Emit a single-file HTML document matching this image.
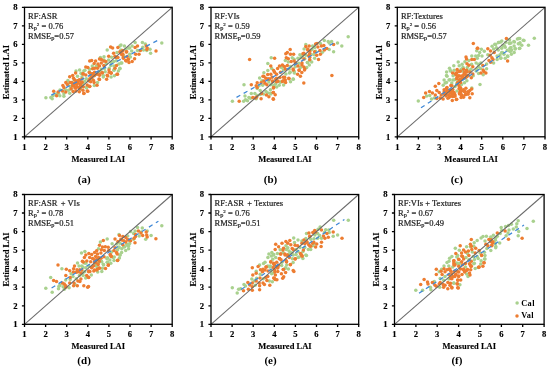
<!DOCTYPE html>
<html><head><meta charset="utf-8"><style>
html,body{margin:0;padding:0;background:#fff;}
svg{display:block;filter:blur(0.3px);}
text{font-family:"Liberation Serif","Times New Roman",serif;}
.tk{font-size:7.5px;font-weight:bold;fill:#000;stroke:#000;stroke-width:0.15px;}
.ax{font-size:8.5px;font-weight:bold;fill:#000;stroke:#000;stroke-width:0.12px;}
.an{font-size:8.5px;fill:#262626;stroke:#262626;stroke-width:0.22px;}
.sb{font-size:6.2px;}
.sp{font-size:5px;}
.pl{font-size:11px;font-weight:bold;fill:#000;}
.lg{font-size:8.3px;font-weight:bold;fill:#000;letter-spacing:0.4px;}
</style></head><body>
<svg width="550" height="370" viewBox="0 0 550 370">
<rect width="550" height="370" fill="#fff"/>
<g fill="#A9D18E"><circle cx="45.9" cy="97.7" r="1.75"/><circle cx="50.8" cy="97.5" r="1.75"/><circle cx="52.2" cy="98.7" r="1.75"/><circle cx="58.5" cy="93.2" r="1.75"/><circle cx="63.9" cy="93.8" r="1.75"/><circle cx="63.9" cy="96.3" r="1.75"/><circle cx="69.7" cy="93.3" r="1.75"/><circle cx="65.3" cy="89.5" r="1.75"/><circle cx="71.2" cy="89" r="1.75"/><circle cx="70.2" cy="86.5" r="1.75"/><circle cx="77.5" cy="76.3" r="1.75"/><circle cx="76" cy="71" r="1.75"/><circle cx="80.4" cy="89" r="1.75"/><circle cx="81.9" cy="73.9" r="1.75"/><circle cx="83.8" cy="71" r="1.75"/><circle cx="86.3" cy="78.8" r="1.75"/><circle cx="86.7" cy="87.5" r="1.75"/><circle cx="82.9" cy="83.6" r="1.75"/><circle cx="89.2" cy="72" r="1.75"/><circle cx="90.6" cy="75.8" r="1.75"/><circle cx="107.2" cy="49.9" r="1.75"/><circle cx="119.9" cy="46" r="1.75"/><circle cx="120.9" cy="49.9" r="1.75"/><circle cx="128.6" cy="47.9" r="1.75"/><circle cx="100.4" cy="57.6" r="1.75"/><circle cx="111.6" cy="57.2" r="1.75"/><circle cx="106.3" cy="63.5" r="1.75"/><circle cx="111.1" cy="62.5" r="1.75"/><circle cx="118.9" cy="64" r="1.75"/><circle cx="121.8" cy="63" r="1.75"/><circle cx="119.9" cy="68.3" r="1.75"/><circle cx="114" cy="70.3" r="1.75"/><circle cx="109.2" cy="68.3" r="1.75"/><circle cx="101.4" cy="69.3" r="1.75"/><circle cx="96.5" cy="65.9" r="1.75"/><circle cx="89.7" cy="69.3" r="1.75"/><circle cx="84.9" cy="70.3" r="1.75"/><circle cx="81" cy="73.2" r="1.75"/><circle cx="94.6" cy="75.2" r="1.75"/><circle cx="103.3" cy="77.1" r="1.75"/><circle cx="111.1" cy="77.1" r="1.75"/><circle cx="82" cy="77.1" r="1.75"/><circle cx="114" cy="66" r="1.75"/><circle cx="104" cy="60" r="1.75"/><circle cx="121" cy="45.1" r="1.75"/><circle cx="135.1" cy="42.6" r="1.75"/><circle cx="142.4" cy="42.6" r="1.75"/><circle cx="145.3" cy="44.1" r="1.75"/><circle cx="161.8" cy="43.1" r="1.75"/><circle cx="150.6" cy="53.3" r="1.75"/><circle cx="146.8" cy="50.4" r="1.75"/><circle cx="129.7" cy="48" r="1.75"/><circle cx="131.7" cy="50.9" r="1.75"/><circle cx="137.5" cy="50.4" r="1.75"/><circle cx="129.7" cy="54.3" r="1.75"/><circle cx="121" cy="63.1" r="1.75"/><circle cx="125.8" cy="49.5" r="1.75"/><circle cx="123.9" cy="56.3" r="1.75"/><circle cx="97.5" cy="82.4" r="1.75"/><circle cx="86.3" cy="87.8" r="1.75"/><circle cx="119.9" cy="68.8" r="1.75"/><circle cx="103.3" cy="75.6" r="1.75"/><circle cx="114" cy="69.8" r="1.75"/><circle cx="74" cy="80" r="1.75"/><circle cx="68" cy="84" r="1.75"/><circle cx="92" cy="79" r="1.75"/><circle cx="60" cy="90" r="1.75"/><circle cx="56" cy="94" r="1.75"/><circle cx="92.3" cy="66.1" r="1.75"/><circle cx="110.8" cy="65.6" r="1.75"/><circle cx="79.6" cy="69.9" r="1.75"/><circle cx="114.4" cy="75.7" r="1.75"/><circle cx="53.2" cy="95.5" r="1.75"/><circle cx="116.4" cy="60.8" r="1.75"/><circle cx="105.2" cy="71.8" r="1.75"/><circle cx="142.8" cy="47.2" r="1.75"/><circle cx="130.4" cy="57.1" r="1.75"/><circle cx="84.8" cy="81.3" r="1.75"/><circle cx="143.5" cy="50" r="1.75"/><circle cx="108.6" cy="60" r="1.75"/><circle cx="118.4" cy="71.1" r="1.75"/><circle cx="67.9" cy="80.6" r="1.75"/><circle cx="150" cy="49.2" r="1.75"/><circle cx="59.8" cy="95.8" r="1.75"/><circle cx="104.5" cy="68.4" r="1.75"/><circle cx="104" cy="56.8" r="1.75"/><circle cx="68.5" cy="90.2" r="1.75"/><circle cx="113.8" cy="61.4" r="1.75"/><circle cx="132.1" cy="46" r="1.75"/><circle cx="117" cy="52.5" r="1.75"/><circle cx="99.2" cy="71.8" r="1.75"/><circle cx="94.3" cy="85.6" r="1.75"/><circle cx="124.4" cy="45.9" r="1.75"/></g>
<g fill="#ED7D31"><circle cx="53.7" cy="91.2" r="1.75"/><circle cx="56.6" cy="95.8" r="1.75"/><circle cx="58.1" cy="91.9" r="1.75"/><circle cx="62.4" cy="90.9" r="1.75"/><circle cx="62.9" cy="85.6" r="1.75"/><circle cx="63.9" cy="87.5" r="1.75"/><circle cx="65.8" cy="82.6" r="1.75"/><circle cx="65.8" cy="91.9" r="1.75"/><circle cx="67.3" cy="84.6" r="1.75"/><circle cx="69.7" cy="76.8" r="1.75"/><circle cx="70.2" cy="82.6" r="1.75"/><circle cx="71.7" cy="82.6" r="1.75"/><circle cx="73.6" cy="78.3" r="1.75"/><circle cx="73.1" cy="91.4" r="1.75"/><circle cx="74.1" cy="86.1" r="1.75"/><circle cx="75.6" cy="72.9" r="1.75"/><circle cx="76" cy="84.1" r="1.75"/><circle cx="78" cy="82.6" r="1.75"/><circle cx="79.5" cy="79.7" r="1.75"/><circle cx="80.4" cy="84.6" r="1.75"/><circle cx="81.4" cy="82.2" r="1.75"/><circle cx="83.8" cy="93.3" r="1.75"/><circle cx="87.2" cy="90.9" r="1.75"/><circle cx="83.3" cy="73.9" r="1.75"/><circle cx="85.8" cy="74.9" r="1.75"/><circle cx="87.2" cy="85.1" r="1.75"/><circle cx="89.7" cy="86.5" r="1.75"/><circle cx="88.7" cy="80.7" r="1.75"/><circle cx="90.6" cy="81.7" r="1.75"/><circle cx="72.5" cy="86" r="1.75"/><circle cx="75" cy="88" r="1.75"/><circle cx="77" cy="86.5" r="1.75"/><circle cx="79" cy="87.5" r="1.75"/><circle cx="81" cy="86" r="1.75"/><circle cx="78.5" cy="80.5" r="1.75"/><circle cx="76.5" cy="81" r="1.75"/><circle cx="74.5" cy="83.5" r="1.75"/><circle cx="110.6" cy="46.9" r="1.75"/><circle cx="112.6" cy="47.9" r="1.75"/><circle cx="117.9" cy="47.4" r="1.75"/><circle cx="89.7" cy="61.1" r="1.75"/><circle cx="91.7" cy="60.6" r="1.75"/><circle cx="95.6" cy="61.1" r="1.75"/><circle cx="108.7" cy="56.2" r="1.75"/><circle cx="113.6" cy="53.3" r="1.75"/><circle cx="115" cy="56.2" r="1.75"/><circle cx="116" cy="57.6" r="1.75"/><circle cx="117.9" cy="57.6" r="1.75"/><circle cx="119.9" cy="51.8" r="1.75"/><circle cx="122.8" cy="50.4" r="1.75"/><circle cx="121.8" cy="54.7" r="1.75"/><circle cx="123.3" cy="57.6" r="1.75"/><circle cx="126.7" cy="51.8" r="1.75"/><circle cx="125.7" cy="60.6" r="1.75"/><circle cx="128.2" cy="59.6" r="1.75"/><circle cx="99.5" cy="59.1" r="1.75"/><circle cx="101.4" cy="59.6" r="1.75"/><circle cx="103.8" cy="61.1" r="1.75"/><circle cx="105.8" cy="61.5" r="1.75"/><circle cx="98" cy="64" r="1.75"/><circle cx="99.5" cy="65.9" r="1.75"/><circle cx="103.8" cy="65.4" r="1.75"/><circle cx="85.8" cy="66.9" r="1.75"/><circle cx="87.8" cy="67.4" r="1.75"/><circle cx="92.6" cy="68.8" r="1.75"/><circle cx="94.6" cy="68.3" r="1.75"/><circle cx="97.5" cy="68.3" r="1.75"/><circle cx="82.9" cy="73.7" r="1.75"/><circle cx="90.2" cy="73.2" r="1.75"/><circle cx="92.6" cy="73.7" r="1.75"/><circle cx="94.6" cy="72.2" r="1.75"/><circle cx="97" cy="74.2" r="1.75"/><circle cx="101.9" cy="72.7" r="1.75"/><circle cx="99.5" cy="75.2" r="1.75"/><circle cx="107.2" cy="75.2" r="1.75"/><circle cx="109.2" cy="72.2" r="1.75"/><circle cx="111.1" cy="72.7" r="1.75"/><circle cx="116.5" cy="65.4" r="1.75"/><circle cx="117.5" cy="74.2" r="1.75"/><circle cx="99" cy="79" r="1.75"/><circle cx="91.7" cy="77.6" r="1.75"/><circle cx="82" cy="79" r="1.75"/><circle cx="115" cy="68.3" r="1.75"/><circle cx="109" cy="70" r="1.75"/><circle cx="135.1" cy="47.5" r="1.75"/><circle cx="137.5" cy="46.1" r="1.75"/><circle cx="146.3" cy="46.1" r="1.75"/><circle cx="147.2" cy="48" r="1.75"/><circle cx="146.8" cy="49.5" r="1.75"/><circle cx="140.4" cy="50.4" r="1.75"/><circle cx="156" cy="50.9" r="1.75"/><circle cx="122.4" cy="50.9" r="1.75"/><circle cx="126.3" cy="51.9" r="1.75"/><circle cx="122.9" cy="54.3" r="1.75"/><circle cx="135.6" cy="54.3" r="1.75"/><circle cx="139" cy="54.3" r="1.75"/><circle cx="134.6" cy="58.7" r="1.75"/><circle cx="128.3" cy="59.2" r="1.75"/><circle cx="126.3" cy="61.1" r="1.75"/><circle cx="132.2" cy="61.6" r="1.75"/><circle cx="121" cy="53.3" r="1.75"/><circle cx="123.4" cy="58.2" r="1.75"/><circle cx="83.9" cy="93.6" r="1.75"/><circle cx="87.8" cy="91.2" r="1.75"/><circle cx="89.7" cy="86.3" r="1.75"/><circle cx="97" cy="85.3" r="1.75"/><circle cx="94.1" cy="82.4" r="1.75"/><circle cx="99.5" cy="79.5" r="1.75"/><circle cx="107.7" cy="76.1" r="1.75"/><circle cx="111.1" cy="73.2" r="1.75"/><circle cx="117" cy="74.2" r="1.75"/><circle cx="102.4" cy="72.7" r="1.75"/><circle cx="99.5" cy="74.6" r="1.75"/><circle cx="74.7" cy="80" r="1.75"/><circle cx="78.2" cy="80.5" r="1.75"/><circle cx="82.1" cy="82.2" r="1.75"/><circle cx="72.4" cy="83.5" r="1.75"/><circle cx="77.3" cy="83.6" r="1.75"/><circle cx="80.3" cy="84.6" r="1.75"/><circle cx="71.1" cy="88.7" r="1.75"/><circle cx="76" cy="88" r="1.75"/><circle cx="79.9" cy="88.6" r="1.75"/><circle cx="83.3" cy="86.8" r="1.75"/><circle cx="89.3" cy="72.5" r="1.75"/><circle cx="92.7" cy="73.7" r="1.75"/><circle cx="91.8" cy="76.7" r="1.75"/><circle cx="94.2" cy="75.8" r="1.75"/><circle cx="89.8" cy="78.7" r="1.75"/><circle cx="93.4" cy="80.2" r="1.75"/><circle cx="82.9" cy="90.2" r="1.75"/><circle cx="79.3" cy="91.8" r="1.75"/><circle cx="127.2" cy="56.6" r="1.75"/><circle cx="72.7" cy="75.5" r="1.75"/><circle cx="94.2" cy="63.5" r="1.75"/><circle cx="106.6" cy="79.2" r="1.75"/><circle cx="129" cy="62.4" r="1.75"/><circle cx="101.3" cy="62.9" r="1.75"/><circle cx="76" cy="91" r="1.75"/></g>
<line x1="24.5" y1="136.8" x2="172.2" y2="7.3" stroke="#6a6a6a" stroke-width="1.05"/>
<line x1="51.3" y1="95.1" x2="158.4" y2="40" stroke="#3F88D7" stroke-width="1.25" stroke-dasharray="4.3 3.9"/>
<rect x="24.5" y="7.3" width="147.7" height="129.5" fill="none" stroke="#000" stroke-width="1.3"/>
<path d="M24.5 136.8v2.6M24.5 136.8h-2.6M45.6 136.8v2.6M24.5 118.3h-2.6M66.7 136.8v2.6M24.5 99.8h-2.6M87.8 136.8v2.6M24.5 81.3h-2.6M108.9 136.8v2.6M24.5 62.8h-2.6M130 136.8v2.6M24.5 44.3h-2.6M151.1 136.8v2.6M24.5 25.8h-2.6M172.2 136.8v2.6M24.5 7.3h-2.6" stroke="#000" stroke-width="1.3" fill="none"/>
<text class="tk" transform="translate(24.5 149.7) scale(1.15 1)" text-anchor="middle">1</text>
<text class="tk" transform="translate(17.5 139.6) scale(1.15 1)" text-anchor="end">1</text>
<text class="tk" transform="translate(45.6 149.7) scale(1.15 1)" text-anchor="middle">2</text>
<text class="tk" transform="translate(17.5 121.1) scale(1.15 1)" text-anchor="end">2</text>
<text class="tk" transform="translate(66.7 149.7) scale(1.15 1)" text-anchor="middle">3</text>
<text class="tk" transform="translate(17.5 102.6) scale(1.15 1)" text-anchor="end">3</text>
<text class="tk" transform="translate(87.8 149.7) scale(1.15 1)" text-anchor="middle">4</text>
<text class="tk" transform="translate(17.5 84.1) scale(1.15 1)" text-anchor="end">4</text>
<text class="tk" transform="translate(108.9 149.7) scale(1.15 1)" text-anchor="middle">5</text>
<text class="tk" transform="translate(17.5 65.6) scale(1.15 1)" text-anchor="end">5</text>
<text class="tk" transform="translate(130 149.7) scale(1.15 1)" text-anchor="middle">6</text>
<text class="tk" transform="translate(17.5 47.1) scale(1.15 1)" text-anchor="end">6</text>
<text class="tk" transform="translate(151.1 149.7) scale(1.15 1)" text-anchor="middle">7</text>
<text class="tk" transform="translate(17.5 28.6) scale(1.15 1)" text-anchor="end">7</text>
<text class="tk" transform="translate(172.2 149.7) scale(1.15 1)" text-anchor="middle">8</text>
<text class="tk" transform="translate(17.5 10.1) scale(1.15 1)" text-anchor="end">8</text>
<text class="ax" x="98.3" y="162.1" text-anchor="middle">Measured LAI</text>
<text class="ax" transform="translate(9.1 72.1) rotate(-90)" text-anchor="middle">Estimated LAI</text>
<text class="an" x="28.1" y="18.7">RF:ASR</text>
<text class="an" x="28.1" y="28.9">R<tspan class="sb" dy="0.7">p</tspan><tspan dy="-3.5" class="sp">2</tspan><tspan dy="2.8"> = 0.76</tspan></text>
<text class="an" x="28.1" y="38.9">RMSE<tspan class="sb" dy="0.7">p</tspan><tspan dy="-0.7">=0.57</tspan></text>
<text class="pl" x="84.2" y="183.2" text-anchor="middle">(a)</text>
<g fill="#A9D18E"><circle cx="232.4" cy="101.3" r="1.75"/><circle cx="243.6" cy="101.3" r="1.75"/><circle cx="245.5" cy="99.8" r="1.75"/><circle cx="247.5" cy="100.8" r="1.75"/><circle cx="245" cy="95.9" r="1.75"/><circle cx="248.9" cy="97.4" r="1.75"/><circle cx="251.3" cy="93.5" r="1.75"/><circle cx="250.4" cy="98.3" r="1.75"/><circle cx="244" cy="84.7" r="1.75"/><circle cx="256.2" cy="98.8" r="1.75"/><circle cx="257.2" cy="95.4" r="1.75"/><circle cx="260.1" cy="94.5" r="1.75"/><circle cx="263.5" cy="94" r="1.75"/><circle cx="267.9" cy="93" r="1.75"/><circle cx="270.8" cy="94" r="1.75"/><circle cx="259.6" cy="77.9" r="1.75"/><circle cx="262" cy="80.8" r="1.75"/><circle cx="257.2" cy="88.6" r="1.75"/><circle cx="270.8" cy="84.7" r="1.75"/><circle cx="273.7" cy="85.7" r="1.75"/><circle cx="275.7" cy="83.8" r="1.75"/><circle cx="266" cy="91.5" r="1.75"/><circle cx="259" cy="85.7" r="1.75"/><circle cx="268.9" cy="79.9" r="1.75"/><circle cx="271.2" cy="57.7" r="1.75"/><circle cx="267.8" cy="63.6" r="1.75"/><circle cx="285.3" cy="60.6" r="1.75"/><circle cx="288.3" cy="62.1" r="1.75"/><circle cx="292.2" cy="57.7" r="1.75"/><circle cx="294.1" cy="59.2" r="1.75"/><circle cx="299.9" cy="54.8" r="1.75"/><circle cx="300.9" cy="57.7" r="1.75"/><circle cx="304.8" cy="58.7" r="1.75"/><circle cx="305.8" cy="55.3" r="1.75"/><circle cx="310.2" cy="53.8" r="1.75"/><circle cx="307.7" cy="62.6" r="1.75"/><circle cx="306.7" cy="67.5" r="1.75"/><circle cx="296" cy="63.6" r="1.75"/><circle cx="281.5" cy="67.5" r="1.75"/><circle cx="290.2" cy="72.3" r="1.75"/><circle cx="294.1" cy="71.3" r="1.75"/><circle cx="289.2" cy="68.9" r="1.75"/><circle cx="263.9" cy="72.8" r="1.75"/><circle cx="267.8" cy="70.4" r="1.75"/><circle cx="271.7" cy="68.4" r="1.75"/><circle cx="293.1" cy="79.1" r="1.75"/><circle cx="280.5" cy="82" r="1.75"/><circle cx="268.8" cy="82" r="1.75"/><circle cx="283.4" cy="70" r="1.75"/><circle cx="348.2" cy="36.8" r="1.75"/><circle cx="341.8" cy="46" r="1.75"/><circle cx="337.5" cy="43.1" r="1.75"/><circle cx="333.6" cy="51.8" r="1.75"/><circle cx="329.2" cy="49.4" r="1.75"/><circle cx="328.2" cy="41.6" r="1.75"/><circle cx="329.2" cy="43.1" r="1.75"/><circle cx="331.6" cy="41.6" r="1.75"/><circle cx="324.3" cy="40.6" r="1.75"/><circle cx="320.4" cy="43.6" r="1.75"/><circle cx="314.6" cy="47.5" r="1.75"/><circle cx="312.6" cy="46" r="1.75"/><circle cx="305.8" cy="44.5" r="1.75"/><circle cx="315.6" cy="51.3" r="1.75"/><circle cx="322.4" cy="52.3" r="1.75"/><circle cx="314.6" cy="58.2" r="1.75"/><circle cx="309.7" cy="60.1" r="1.75"/><circle cx="302" cy="56.2" r="1.75"/><circle cx="307.3" cy="62.5" r="1.75"/><circle cx="311.7" cy="62" r="1.75"/><circle cx="293.3" cy="79.2" r="1.75"/><circle cx="283.6" cy="85.1" r="1.75"/><circle cx="280.2" cy="82.2" r="1.75"/><circle cx="289.5" cy="72.9" r="1.75"/><circle cx="294.3" cy="72.9" r="1.75"/><circle cx="273.9" cy="85.6" r="1.75"/><circle cx="270.5" cy="93.3" r="1.75"/><circle cx="298.9" cy="63.2" r="1.75"/><circle cx="276.7" cy="87" r="1.75"/><circle cx="313.6" cy="54.6" r="1.75"/><circle cx="270.4" cy="89.8" r="1.75"/><circle cx="297.9" cy="58.2" r="1.75"/><circle cx="279.2" cy="85.3" r="1.75"/><circle cx="290.5" cy="81.8" r="1.75"/><circle cx="295.3" cy="66.7" r="1.75"/><circle cx="290.5" cy="66.4" r="1.75"/><circle cx="309.3" cy="65.1" r="1.75"/><circle cx="262.7" cy="85.3" r="1.75"/><circle cx="260.2" cy="90.4" r="1.75"/><circle cx="285.9" cy="73.9" r="1.75"/><circle cx="254.9" cy="93.6" r="1.75"/><circle cx="300.4" cy="67.5" r="1.75"/><circle cx="304.1" cy="48.9" r="1.75"/><circle cx="311.9" cy="49.6" r="1.75"/></g>
<g fill="#ED7D31"><circle cx="239.2" cy="101.3" r="1.75"/><circle cx="251.3" cy="84.7" r="1.75"/><circle cx="252.8" cy="97.4" r="1.75"/><circle cx="255.2" cy="97.9" r="1.75"/><circle cx="256.7" cy="96.9" r="1.75"/><circle cx="256.2" cy="85.7" r="1.75"/><circle cx="257.2" cy="87.6" r="1.75"/><circle cx="261.6" cy="93.5" r="1.75"/><circle cx="261.1" cy="98.8" r="1.75"/><circle cx="266.4" cy="94.9" r="1.75"/><circle cx="273.7" cy="87.6" r="1.75"/><circle cx="273.2" cy="92.5" r="1.75"/><circle cx="273.2" cy="98.8" r="1.75"/><circle cx="257.2" cy="82.8" r="1.75"/><circle cx="261.1" cy="82.8" r="1.75"/><circle cx="264" cy="76.5" r="1.75"/><circle cx="265" cy="83.3" r="1.75"/><circle cx="267.9" cy="78.9" r="1.75"/><circle cx="269.8" cy="78.9" r="1.75"/><circle cx="266.9" cy="84.7" r="1.75"/><circle cx="272.7" cy="81.8" r="1.75"/><circle cx="275.7" cy="78.9" r="1.75"/><circle cx="276.6" cy="81.8" r="1.75"/><circle cx="249.6" cy="59.6" r="1.75"/><circle cx="290.2" cy="49.5" r="1.75"/><circle cx="287.3" cy="52.4" r="1.75"/><circle cx="285.8" cy="53.8" r="1.75"/><circle cx="293.6" cy="54.3" r="1.75"/><circle cx="286.3" cy="57.7" r="1.75"/><circle cx="288.3" cy="58.7" r="1.75"/><circle cx="274.6" cy="58.2" r="1.75"/><circle cx="291.2" cy="61.6" r="1.75"/><circle cx="294.1" cy="61.1" r="1.75"/><circle cx="295.6" cy="63.1" r="1.75"/><circle cx="270.8" cy="66" r="1.75"/><circle cx="279.5" cy="66" r="1.75"/><circle cx="282.4" cy="65" r="1.75"/><circle cx="284.4" cy="66.5" r="1.75"/><circle cx="287.3" cy="65.5" r="1.75"/><circle cx="277.6" cy="68.4" r="1.75"/><circle cx="285.3" cy="68.9" r="1.75"/><circle cx="293.1" cy="68.9" r="1.75"/><circle cx="299" cy="69.9" r="1.75"/><circle cx="301.9" cy="65" r="1.75"/><circle cx="303.8" cy="67" r="1.75"/><circle cx="304.8" cy="68.9" r="1.75"/><circle cx="298" cy="66" r="1.75"/><circle cx="302.9" cy="53.8" r="1.75"/><circle cx="308.7" cy="55.8" r="1.75"/><circle cx="307.7" cy="49.9" r="1.75"/><circle cx="309.7" cy="59.7" r="1.75"/><circle cx="273.7" cy="70.4" r="1.75"/><circle cx="274.6" cy="72.3" r="1.75"/><circle cx="270.8" cy="74.3" r="1.75"/><circle cx="276.6" cy="74.3" r="1.75"/><circle cx="280.5" cy="72.3" r="1.75"/><circle cx="263" cy="76.2" r="1.75"/><circle cx="265.9" cy="78.2" r="1.75"/><circle cx="268.8" cy="79.1" r="1.75"/><circle cx="263.9" cy="81.1" r="1.75"/><circle cx="276.6" cy="78.2" r="1.75"/><circle cx="277.6" cy="81.1" r="1.75"/><circle cx="283.4" cy="77.2" r="1.75"/><circle cx="285.3" cy="80.1" r="1.75"/><circle cx="288.8" cy="78.2" r="1.75"/><circle cx="282.4" cy="81.6" r="1.75"/><circle cx="300.4" cy="76.2" r="1.75"/><circle cx="303.8" cy="83" r="1.75"/><circle cx="272.7" cy="81.1" r="1.75"/><circle cx="305.8" cy="46.5" r="1.75"/><circle cx="309.2" cy="46" r="1.75"/><circle cx="307.8" cy="48.9" r="1.75"/><circle cx="315.6" cy="44.1" r="1.75"/><circle cx="317" cy="43.6" r="1.75"/><circle cx="321.4" cy="46" r="1.75"/><circle cx="323.8" cy="45.5" r="1.75"/><circle cx="326.8" cy="48.4" r="1.75"/><circle cx="333.6" cy="44.5" r="1.75"/><circle cx="319.9" cy="50.4" r="1.75"/><circle cx="320.4" cy="54.3" r="1.75"/><circle cx="314.6" cy="51.8" r="1.75"/><circle cx="309.7" cy="51.3" r="1.75"/><circle cx="303.9" cy="53.3" r="1.75"/><circle cx="309.7" cy="53.8" r="1.75"/><circle cx="309.7" cy="57.2" r="1.75"/><circle cx="303.9" cy="59.1" r="1.75"/><circle cx="318.5" cy="59.6" r="1.75"/><circle cx="302" cy="63" r="1.75"/><circle cx="273.4" cy="88" r="1.75"/><circle cx="273.4" cy="92.4" r="1.75"/><circle cx="273.4" cy="99.2" r="1.75"/><circle cx="284.6" cy="77.3" r="1.75"/><circle cx="285.6" cy="82.6" r="1.75"/><circle cx="289" cy="78.8" r="1.75"/><circle cx="283.1" cy="80.7" r="1.75"/><circle cx="277.8" cy="81.2" r="1.75"/><circle cx="299.2" cy="70.5" r="1.75"/><circle cx="304.5" cy="70" r="1.75"/><circle cx="293.3" cy="70" r="1.75"/><circle cx="331.9" cy="75.4" r="1.75"/><circle cx="267.7" cy="74.6" r="1.75"/><circle cx="279.9" cy="77.5" r="1.75"/><circle cx="297.6" cy="74.2" r="1.75"/><circle cx="316.7" cy="55.2" r="1.75"/><circle cx="317.9" cy="47.1" r="1.75"/><circle cx="272.1" cy="77.2" r="1.75"/><circle cx="324.4" cy="49.9" r="1.75"/><circle cx="301.8" cy="72.4" r="1.75"/><circle cx="290.5" cy="54.3" r="1.75"/><circle cx="275.2" cy="94.7" r="1.75"/><circle cx="268.9" cy="96.7" r="1.75"/></g>
<line x1="211" y1="136.8" x2="358.7" y2="7.3" stroke="#6a6a6a" stroke-width="1.05"/>
<line x1="236.5" y1="97.4" x2="333.8" y2="43" stroke="#3F88D7" stroke-width="1.25" stroke-dasharray="4.3 3.9"/>
<rect x="211" y="7.3" width="147.7" height="129.5" fill="none" stroke="#000" stroke-width="1.3"/>
<path d="M211 136.8v2.6M211 136.8h-2.6M232.1 136.8v2.6M211 118.3h-2.6M253.2 136.8v2.6M211 99.8h-2.6M274.3 136.8v2.6M211 81.3h-2.6M295.4 136.8v2.6M211 62.8h-2.6M316.5 136.8v2.6M211 44.3h-2.6M337.6 136.8v2.6M211 25.8h-2.6M358.7 136.8v2.6M211 7.3h-2.6" stroke="#000" stroke-width="1.3" fill="none"/>
<text class="tk" transform="translate(211 149.7) scale(1.15 1)" text-anchor="middle">1</text>
<text class="tk" transform="translate(204 139.6) scale(1.15 1)" text-anchor="end">1</text>
<text class="tk" transform="translate(232.1 149.7) scale(1.15 1)" text-anchor="middle">2</text>
<text class="tk" transform="translate(204 121.1) scale(1.15 1)" text-anchor="end">2</text>
<text class="tk" transform="translate(253.2 149.7) scale(1.15 1)" text-anchor="middle">3</text>
<text class="tk" transform="translate(204 102.6) scale(1.15 1)" text-anchor="end">3</text>
<text class="tk" transform="translate(274.3 149.7) scale(1.15 1)" text-anchor="middle">4</text>
<text class="tk" transform="translate(204 84.1) scale(1.15 1)" text-anchor="end">4</text>
<text class="tk" transform="translate(295.4 149.7) scale(1.15 1)" text-anchor="middle">5</text>
<text class="tk" transform="translate(204 65.6) scale(1.15 1)" text-anchor="end">5</text>
<text class="tk" transform="translate(316.5 149.7) scale(1.15 1)" text-anchor="middle">6</text>
<text class="tk" transform="translate(204 47.1) scale(1.15 1)" text-anchor="end">6</text>
<text class="tk" transform="translate(337.6 149.7) scale(1.15 1)" text-anchor="middle">7</text>
<text class="tk" transform="translate(204 28.6) scale(1.15 1)" text-anchor="end">7</text>
<text class="tk" transform="translate(358.7 149.7) scale(1.15 1)" text-anchor="middle">8</text>
<text class="tk" transform="translate(204 10.1) scale(1.15 1)" text-anchor="end">8</text>
<text class="ax" x="284.9" y="162.1" text-anchor="middle">Measured LAI</text>
<text class="ax" transform="translate(195.6 72.1) rotate(-90)" text-anchor="middle">Estimated LAI</text>
<text class="an" x="214.6" y="18.7">RF:VIs</text>
<text class="an" x="214.6" y="28.9">R<tspan class="sb" dy="0.7">p</tspan><tspan dy="-3.5" class="sp">2</tspan><tspan dy="2.8"> = 0.59</tspan></text>
<text class="an" x="214.6" y="38.9">RMSE<tspan class="sb" dy="0.7">p</tspan><tspan dy="-0.7">=0.59</tspan></text>
<text class="pl" x="270.5" y="183.2" text-anchor="middle">(b)</text>
<g fill="#A9D18E"><circle cx="418.3" cy="100.9" r="1.75"/><circle cx="426.6" cy="96" r="1.75"/><circle cx="431.5" cy="98.9" r="1.75"/><circle cx="434.4" cy="97.9" r="1.75"/><circle cx="444.1" cy="79.9" r="1.75"/><circle cx="445.1" cy="82.9" r="1.75"/><circle cx="449" cy="80" r="1.75"/><circle cx="453" cy="80" r="1.75"/><circle cx="456.7" cy="83.8" r="1.75"/><circle cx="458.2" cy="81" r="1.75"/><circle cx="447" cy="76.3" r="1.75"/><circle cx="449.9" cy="79.7" r="1.75"/><circle cx="446.5" cy="82.6" r="1.75"/><circle cx="454.7" cy="79.7" r="1.75"/><circle cx="451.8" cy="83.1" r="1.75"/><circle cx="461.5" cy="84.6" r="1.75"/><circle cx="466.9" cy="80.7" r="1.75"/><circle cx="471.8" cy="88" r="1.75"/><circle cx="480" cy="84.6" r="1.75"/><circle cx="473.2" cy="75.8" r="1.75"/><circle cx="476.1" cy="71" r="1.75"/><circle cx="478.6" cy="73.4" r="1.75"/><circle cx="450.4" cy="71" r="1.75"/><circle cx="462.5" cy="71" r="1.75"/><circle cx="468.3" cy="71" r="1.75"/><circle cx="476.7" cy="50.7" r="1.75"/><circle cx="471.8" cy="56.1" r="1.75"/><circle cx="475.7" cy="56.1" r="1.75"/><circle cx="468.9" cy="60.4" r="1.75"/><circle cx="458.2" cy="61.9" r="1.75"/><circle cx="453.8" cy="65.8" r="1.75"/><circle cx="449.5" cy="68.2" r="1.75"/><circle cx="450.4" cy="70.6" r="1.75"/><circle cx="446.5" cy="75.5" r="1.75"/><circle cx="459.2" cy="65.8" r="1.75"/><circle cx="462.1" cy="64.3" r="1.75"/><circle cx="463" cy="67.2" r="1.75"/><circle cx="470.9" cy="69.2" r="1.75"/><circle cx="478.6" cy="64.3" r="1.75"/><circle cx="476.7" cy="69.2" r="1.75"/><circle cx="461.1" cy="69.2" r="1.75"/><circle cx="478.6" cy="55.6" r="1.75"/><circle cx="534.3" cy="38.2" r="1.75"/><circle cx="528.5" cy="45.2" r="1.75"/><circle cx="523.3" cy="40.2" r="1.75"/><circle cx="519.8" cy="38.5" r="1.75"/><circle cx="517.4" cy="39" r="1.75"/><circle cx="519.2" cy="43.7" r="1.75"/><circle cx="519.8" cy="48.3" r="1.75"/><circle cx="515.1" cy="48.9" r="1.75"/><circle cx="514.5" cy="42" r="1.75"/><circle cx="511" cy="43.1" r="1.75"/><circle cx="509.3" cy="43.1" r="1.75"/><circle cx="509.9" cy="48.3" r="1.75"/><circle cx="511.6" cy="50" r="1.75"/><circle cx="509.9" cy="51.3" r="1.75"/><circle cx="505.2" cy="47.2" r="1.75"/><circle cx="502.9" cy="45.4" r="1.75"/><circle cx="500.6" cy="42" r="1.75"/><circle cx="498.8" cy="42.5" r="1.75"/><circle cx="494.8" cy="44.3" r="1.75"/><circle cx="493.6" cy="48.9" r="1.75"/><circle cx="498.3" cy="50.1" r="1.75"/><circle cx="501.7" cy="52.4" r="1.75"/><circle cx="504" cy="54.2" r="1.75"/><circle cx="507.6" cy="55.9" r="1.75"/><circle cx="505.2" cy="58.2" r="1.75"/><circle cx="500.6" cy="58.2" r="1.75"/><circle cx="497.1" cy="55.9" r="1.75"/><circle cx="484.3" cy="51.3" r="1.75"/><circle cx="479.7" cy="52.4" r="1.75"/><circle cx="482" cy="55.9" r="1.75"/><circle cx="477.3" cy="58.2" r="1.75"/><circle cx="487.8" cy="54.7" r="1.75"/><circle cx="480.8" cy="62.9" r="1.75"/><circle cx="486.6" cy="64" r="1.75"/><circle cx="478.5" cy="66.4" r="1.75"/><circle cx="493.6" cy="62.9" r="1.75"/><circle cx="486.6" cy="68.7" r="1.75"/><circle cx="498.4" cy="42.4" r="1.75"/><circle cx="501.8" cy="41.1" r="1.75"/><circle cx="504.5" cy="45.8" r="1.75"/><circle cx="509.5" cy="43.4" r="1.75"/><circle cx="513.9" cy="41.4" r="1.75"/><circle cx="518.6" cy="38.4" r="1.75"/><circle cx="524" cy="40.4" r="1.75"/><circle cx="518.3" cy="43.8" r="1.75"/><circle cx="520" cy="42.8" r="1.75"/><circle cx="519.3" cy="48.5" r="1.75"/><circle cx="515.3" cy="48.5" r="1.75"/><circle cx="510.9" cy="47.5" r="1.75"/><circle cx="510.5" cy="51.2" r="1.75"/><circle cx="502.4" cy="52.6" r="1.75"/><circle cx="495.7" cy="44.5" r="1.75"/><circle cx="496.4" cy="47.8" r="1.75"/><circle cx="507.8" cy="56.6" r="1.75"/><circle cx="501" cy="58" r="1.75"/><circle cx="511.4" cy="54.2" r="1.75"/><circle cx="464.9" cy="61.7" r="1.75"/><circle cx="443.2" cy="85.3" r="1.75"/><circle cx="481.4" cy="49.3" r="1.75"/><circle cx="471.6" cy="64.2" r="1.75"/><circle cx="509.5" cy="39.7" r="1.75"/><circle cx="446.6" cy="72.1" r="1.75"/><circle cx="453.1" cy="75.7" r="1.75"/><circle cx="480.4" cy="68.5" r="1.75"/><circle cx="457" cy="91" r="1.75"/><circle cx="497.1" cy="59.4" r="1.75"/><circle cx="467.3" cy="67.6" r="1.75"/><circle cx="514.2" cy="52.6" r="1.75"/><circle cx="464.5" cy="82.7" r="1.75"/><circle cx="521.8" cy="45.2" r="1.75"/><circle cx="507.3" cy="50.2" r="1.75"/><circle cx="501.7" cy="48.2" r="1.75"/><circle cx="476.1" cy="63.1" r="1.75"/><circle cx="514.1" cy="45.9" r="1.75"/><circle cx="500" cy="54.7" r="1.75"/><circle cx="505.8" cy="42.2" r="1.75"/><circle cx="429.7" cy="95.4" r="1.75"/><circle cx="483.2" cy="74.8" r="1.75"/><circle cx="455.1" cy="86.6" r="1.75"/><circle cx="454.1" cy="70.2" r="1.75"/><circle cx="492.1" cy="46.3" r="1.75"/></g>
<g fill="#ED7D31"><circle cx="423.7" cy="97.5" r="1.75"/><circle cx="425.6" cy="93.1" r="1.75"/><circle cx="429.5" cy="91.6" r="1.75"/><circle cx="432.4" cy="93.1" r="1.75"/><circle cx="435.3" cy="95" r="1.75"/><circle cx="436.8" cy="98.4" r="1.75"/><circle cx="435.3" cy="86.3" r="1.75"/><circle cx="438.8" cy="83.4" r="1.75"/><circle cx="436.8" cy="90.6" r="1.75"/><circle cx="439.2" cy="92.6" r="1.75"/><circle cx="441.2" cy="95" r="1.75"/><circle cx="440.2" cy="97.9" r="1.75"/><circle cx="443.1" cy="98.9" r="1.75"/><circle cx="444.1" cy="89.7" r="1.75"/><circle cx="446.5" cy="88.2" r="1.75"/><circle cx="446" cy="96" r="1.75"/><circle cx="449" cy="97.5" r="1.75"/><circle cx="449.9" cy="93.1" r="1.75"/><circle cx="451.9" cy="90.6" r="1.75"/><circle cx="451.9" cy="85.8" r="1.75"/><circle cx="452.9" cy="96.5" r="1.75"/><circle cx="454.8" cy="94.5" r="1.75"/><circle cx="456.3" cy="99.4" r="1.75"/><circle cx="460.6" cy="87.7" r="1.75"/><circle cx="460.6" cy="92.6" r="1.75"/><circle cx="461.1" cy="97.5" r="1.75"/><circle cx="459.7" cy="79.9" r="1.75"/><circle cx="447" cy="91.6" r="1.75"/><circle cx="444.1" cy="94" r="1.75"/><circle cx="459.1" cy="88.5" r="1.75"/><circle cx="460.6" cy="90.9" r="1.75"/><circle cx="462.5" cy="90.4" r="1.75"/><circle cx="464.5" cy="91.4" r="1.75"/><circle cx="459.6" cy="93.3" r="1.75"/><circle cx="462" cy="95.3" r="1.75"/><circle cx="465.4" cy="94.8" r="1.75"/><circle cx="463.5" cy="97.2" r="1.75"/><circle cx="468.3" cy="92.4" r="1.75"/><circle cx="469.8" cy="90.4" r="1.75"/><circle cx="472.2" cy="93.8" r="1.75"/><circle cx="469.8" cy="97.7" r="1.75"/><circle cx="456.7" cy="99.2" r="1.75"/><circle cx="447" cy="87.5" r="1.75"/><circle cx="450.8" cy="85.6" r="1.75"/><circle cx="452.8" cy="89.5" r="1.75"/><circle cx="453.8" cy="93.3" r="1.75"/><circle cx="450.8" cy="96.3" r="1.75"/><circle cx="447.9" cy="98.2" r="1.75"/><circle cx="454.7" cy="96.3" r="1.75"/><circle cx="455.7" cy="73.9" r="1.75"/><circle cx="458.6" cy="75.8" r="1.75"/><circle cx="456.7" cy="78.8" r="1.75"/><circle cx="459.6" cy="79.7" r="1.75"/><circle cx="462.5" cy="76.8" r="1.75"/><circle cx="464.5" cy="72.9" r="1.75"/><circle cx="465.4" cy="77.8" r="1.75"/><circle cx="468.3" cy="75.4" r="1.75"/><circle cx="471.3" cy="77.8" r="1.75"/><circle cx="460.6" cy="82.6" r="1.75"/><circle cx="457.6" cy="82.6" r="1.75"/><circle cx="481" cy="72.9" r="1.75"/><circle cx="483.9" cy="71.5" r="1.75"/><circle cx="485.9" cy="72.9" r="1.75"/><circle cx="466.4" cy="71" r="1.75"/><circle cx="473.3" cy="43.4" r="1.75"/><circle cx="477.7" cy="48.3" r="1.75"/><circle cx="466" cy="57" r="1.75"/><circle cx="466.5" cy="59" r="1.75"/><circle cx="471.8" cy="59.5" r="1.75"/><circle cx="474.3" cy="59.5" r="1.75"/><circle cx="467" cy="63.8" r="1.75"/><circle cx="468.9" cy="65.3" r="1.75"/><circle cx="472.8" cy="66.8" r="1.75"/><circle cx="463.6" cy="69.2" r="1.75"/><circle cx="466.5" cy="70.2" r="1.75"/><circle cx="459.2" cy="71.6" r="1.75"/><circle cx="455.8" cy="73.6" r="1.75"/><circle cx="464" cy="74" r="1.75"/><circle cx="469.9" cy="72.1" r="1.75"/><circle cx="472.8" cy="74" r="1.75"/><circle cx="506.4" cy="38.5" r="1.75"/><circle cx="477.3" cy="48.3" r="1.75"/><circle cx="487.8" cy="48.7" r="1.75"/><circle cx="494.2" cy="52.4" r="1.75"/><circle cx="490.1" cy="55.3" r="1.75"/><circle cx="491.9" cy="57.7" r="1.75"/><circle cx="493" cy="59.4" r="1.75"/><circle cx="489" cy="60.6" r="1.75"/><circle cx="490.7" cy="62.3" r="1.75"/><circle cx="507.6" cy="61.1" r="1.75"/><circle cx="483.1" cy="69.9" r="1.75"/><circle cx="447.2" cy="90.3" r="1.75"/><circle cx="450" cy="90.6" r="1.75"/><circle cx="452.3" cy="90.7" r="1.75"/><circle cx="444.1" cy="92" r="1.75"/><circle cx="446.3" cy="92.4" r="1.75"/><circle cx="450.8" cy="92.9" r="1.75"/><circle cx="454" cy="92.6" r="1.75"/><circle cx="445.5" cy="94.7" r="1.75"/><circle cx="448.6" cy="95.1" r="1.75"/><circle cx="452.3" cy="95.3" r="1.75"/><circle cx="454.9" cy="95.7" r="1.75"/><circle cx="459.8" cy="88.9" r="1.75"/><circle cx="463.3" cy="89.7" r="1.75"/><circle cx="465.9" cy="88.3" r="1.75"/><circle cx="471.7" cy="88.9" r="1.75"/><circle cx="460.1" cy="91.6" r="1.75"/><circle cx="464.6" cy="91.5" r="1.75"/><circle cx="467.7" cy="91.7" r="1.75"/><circle cx="459.6" cy="93.9" r="1.75"/><circle cx="461.5" cy="95.1" r="1.75"/><circle cx="465.7" cy="94.2" r="1.75"/><circle cx="468" cy="94.2" r="1.75"/><circle cx="456.8" cy="72.7" r="1.75"/><circle cx="460.4" cy="71.3" r="1.75"/><circle cx="464.6" cy="72.5" r="1.75"/><circle cx="466.8" cy="71.9" r="1.75"/><circle cx="456" cy="74.8" r="1.75"/><circle cx="459.8" cy="76" r="1.75"/><circle cx="462.3" cy="75.7" r="1.75"/><circle cx="465.3" cy="74.4" r="1.75"/><circle cx="457.1" cy="77.2" r="1.75"/><circle cx="460.6" cy="78.9" r="1.75"/><circle cx="463.1" cy="77.9" r="1.75"/><circle cx="466.8" cy="76.7" r="1.75"/><circle cx="490.5" cy="50.9" r="1.75"/><circle cx="457.2" cy="69.5" r="1.75"/><circle cx="458.9" cy="85.4" r="1.75"/><circle cx="482.8" cy="65.6" r="1.75"/><circle cx="452.3" cy="100.5" r="1.75"/><circle cx="452.6" cy="73" r="1.75"/></g>
<line x1="397.3" y1="136.8" x2="545" y2="7.3" stroke="#6a6a6a" stroke-width="1.05"/>
<line x1="421" y1="107.8" x2="508.5" y2="50" stroke="#3F88D7" stroke-width="1.25" stroke-dasharray="4.3 3.9"/>
<rect x="397.3" y="7.3" width="147.7" height="129.5" fill="none" stroke="#000" stroke-width="1.3"/>
<path d="M397.3 136.8v2.6M397.3 136.8h-2.6M418.4 136.8v2.6M397.3 118.3h-2.6M439.5 136.8v2.6M397.3 99.8h-2.6M460.6 136.8v2.6M397.3 81.3h-2.6M481.7 136.8v2.6M397.3 62.8h-2.6M502.8 136.8v2.6M397.3 44.3h-2.6M523.9 136.8v2.6M397.3 25.8h-2.6M545 136.8v2.6M397.3 7.3h-2.6" stroke="#000" stroke-width="1.3" fill="none"/>
<text class="tk" transform="translate(397.3 149.7) scale(1.15 1)" text-anchor="middle">1</text>
<text class="tk" transform="translate(390.3 139.6) scale(1.15 1)" text-anchor="end">1</text>
<text class="tk" transform="translate(418.4 149.7) scale(1.15 1)" text-anchor="middle">2</text>
<text class="tk" transform="translate(390.3 121.1) scale(1.15 1)" text-anchor="end">2</text>
<text class="tk" transform="translate(439.5 149.7) scale(1.15 1)" text-anchor="middle">3</text>
<text class="tk" transform="translate(390.3 102.6) scale(1.15 1)" text-anchor="end">3</text>
<text class="tk" transform="translate(460.6 149.7) scale(1.15 1)" text-anchor="middle">4</text>
<text class="tk" transform="translate(390.3 84.1) scale(1.15 1)" text-anchor="end">4</text>
<text class="tk" transform="translate(481.7 149.7) scale(1.15 1)" text-anchor="middle">5</text>
<text class="tk" transform="translate(390.3 65.6) scale(1.15 1)" text-anchor="end">5</text>
<text class="tk" transform="translate(502.8 149.7) scale(1.15 1)" text-anchor="middle">6</text>
<text class="tk" transform="translate(390.3 47.1) scale(1.15 1)" text-anchor="end">6</text>
<text class="tk" transform="translate(523.9 149.7) scale(1.15 1)" text-anchor="middle">7</text>
<text class="tk" transform="translate(390.3 28.6) scale(1.15 1)" text-anchor="end">7</text>
<text class="tk" transform="translate(545 149.7) scale(1.15 1)" text-anchor="middle">8</text>
<text class="tk" transform="translate(390.3 10.1) scale(1.15 1)" text-anchor="end">8</text>
<text class="ax" x="471.1" y="162.1" text-anchor="middle">Measured LAI</text>
<text class="ax" transform="translate(381.9 72.1) rotate(-90)" text-anchor="middle">Estimated LAI</text>
<text class="an" x="400.9" y="18.7">RF:Textures</text>
<text class="an" x="400.9" y="28.9">R<tspan class="sb" dy="0.7">p</tspan><tspan dy="-3.5" class="sp">2</tspan><tspan dy="2.8"> = 0.56</tspan></text>
<text class="an" x="400.9" y="38.9">RMSE<tspan class="sb" dy="0.7">p</tspan><tspan dy="-0.7">=0.57</tspan></text>
<text class="pl" x="456.8" y="183.2" text-anchor="middle">(c)</text>
<g fill="#A9D18E"><circle cx="45.8" cy="288.3" r="1.75"/><circle cx="52.2" cy="292.2" r="1.75"/><circle cx="50.7" cy="277.6" r="1.75"/><circle cx="61.9" cy="268.8" r="1.75"/><circle cx="59" cy="286.3" r="1.75"/><circle cx="58.5" cy="288.8" r="1.75"/><circle cx="60" cy="285" r="1.75"/><circle cx="71.1" cy="273.7" r="1.75"/><circle cx="70.2" cy="279.5" r="1.75"/><circle cx="73" cy="276.6" r="1.75"/><circle cx="75" cy="284.4" r="1.75"/><circle cx="64.3" cy="289.2" r="1.75"/><circle cx="77.5" cy="263" r="1.75"/><circle cx="79" cy="265.9" r="1.75"/><circle cx="81.8" cy="265.9" r="1.75"/><circle cx="84.3" cy="263" r="1.75"/><circle cx="85.7" cy="267.8" r="1.75"/><circle cx="84.7" cy="271.7" r="1.75"/><circle cx="85.7" cy="278" r="1.75"/><circle cx="88.6" cy="265.9" r="1.75"/><circle cx="82.8" cy="272.7" r="1.75"/><circle cx="100.4" cy="241.9" r="1.75"/><circle cx="107.2" cy="239" r="1.75"/><circle cx="81.5" cy="253.1" r="1.75"/><circle cx="84.9" cy="251.6" r="1.75"/><circle cx="98.5" cy="248.7" r="1.75"/><circle cx="99.5" cy="258.4" r="1.75"/><circle cx="101.4" cy="261.3" r="1.75"/><circle cx="103.3" cy="264.3" r="1.75"/><circle cx="107.2" cy="262.3" r="1.75"/><circle cx="106.8" cy="258.4" r="1.75"/><circle cx="112.1" cy="243.8" r="1.75"/><circle cx="113.1" cy="257.5" r="1.75"/><circle cx="114" cy="260.4" r="1.75"/><circle cx="119.9" cy="255" r="1.75"/><circle cx="118.9" cy="247.7" r="1.75"/><circle cx="121.8" cy="248.7" r="1.75"/><circle cx="124.7" cy="246.8" r="1.75"/><circle cx="127.7" cy="245.8" r="1.75"/><circle cx="128.6" cy="248.7" r="1.75"/><circle cx="125.7" cy="250.6" r="1.75"/><circle cx="85.8" cy="263.3" r="1.75"/><circle cx="82.9" cy="267.2" r="1.75"/><circle cx="96.5" cy="266.2" r="1.75"/><circle cx="102.4" cy="268.2" r="1.75"/><circle cx="161.8" cy="225.7" r="1.75"/><circle cx="151.1" cy="235.4" r="1.75"/><circle cx="145.7" cy="239.3" r="1.75"/><circle cx="142.3" cy="228.1" r="1.75"/><circle cx="137.5" cy="227.6" r="1.75"/><circle cx="147.2" cy="231" r="1.75"/><circle cx="130.6" cy="231.5" r="1.75"/><circle cx="133.6" cy="233.5" r="1.75"/><circle cx="141.3" cy="232" r="1.75"/><circle cx="119" cy="234.5" r="1.75"/><circle cx="127.7" cy="235.9" r="1.75"/><circle cx="120" cy="243.2" r="1.75"/><circle cx="126.8" cy="244.2" r="1.75"/><circle cx="128.7" cy="246.1" r="1.75"/><circle cx="123.8" cy="247.1" r="1.75"/><circle cx="119" cy="247.1" r="1.75"/><circle cx="133.6" cy="239.3" r="1.75"/><circle cx="120.1" cy="254.9" r="1.75"/><circle cx="114.3" cy="256.9" r="1.75"/><circle cx="107.5" cy="257.8" r="1.75"/><circle cx="107.5" cy="262.2" r="1.75"/><circle cx="103.6" cy="265.1" r="1.75"/><circle cx="101.6" cy="261.7" r="1.75"/><circle cx="98.7" cy="262.7" r="1.75"/><circle cx="95.8" cy="264.6" r="1.75"/><circle cx="97.7" cy="272" r="1.75"/><circle cx="110.8" cy="263.2" r="1.75"/><circle cx="63.1" cy="286.7" r="1.75"/><circle cx="76.3" cy="278.7" r="1.75"/><circle cx="65.7" cy="280" r="1.75"/><circle cx="111.6" cy="251.9" r="1.75"/><circle cx="129.7" cy="243.6" r="1.75"/><circle cx="79.4" cy="275.4" r="1.75"/><circle cx="91.3" cy="274.9" r="1.75"/><circle cx="121.6" cy="252.4" r="1.75"/><circle cx="83.1" cy="275.5" r="1.75"/><circle cx="139.2" cy="235.9" r="1.75"/><circle cx="109.8" cy="259.9" r="1.75"/><circle cx="119.4" cy="258" r="1.75"/><circle cx="117.5" cy="250.1" r="1.75"/><circle cx="69.1" cy="287.8" r="1.75"/><circle cx="116.7" cy="244" r="1.75"/><circle cx="135.1" cy="231.1" r="1.75"/><circle cx="101.8" cy="271.5" r="1.75"/></g>
<g fill="#ED7D31"><circle cx="58" cy="264.9" r="1.75"/><circle cx="53.6" cy="280.5" r="1.75"/><circle cx="56.5" cy="281.5" r="1.75"/><circle cx="62.4" cy="282.9" r="1.75"/><circle cx="64.3" cy="283.9" r="1.75"/><circle cx="65.8" cy="285.8" r="1.75"/><circle cx="65.8" cy="287.3" r="1.75"/><circle cx="66.3" cy="269.3" r="1.75"/><circle cx="69.7" cy="270.8" r="1.75"/><circle cx="65.8" cy="275.6" r="1.75"/><circle cx="70.2" cy="277.6" r="1.75"/><circle cx="69.7" cy="282.9" r="1.75"/><circle cx="74" cy="282.9" r="1.75"/><circle cx="73.6" cy="285.8" r="1.75"/><circle cx="74.5" cy="265.9" r="1.75"/><circle cx="73.6" cy="268.8" r="1.75"/><circle cx="77" cy="269.8" r="1.75"/><circle cx="76.5" cy="272.2" r="1.75"/><circle cx="78.4" cy="271.7" r="1.75"/><circle cx="79.9" cy="269.8" r="1.75"/><circle cx="77.9" cy="281" r="1.75"/><circle cx="80.9" cy="279" r="1.75"/><circle cx="79.9" cy="281.5" r="1.75"/><circle cx="83.8" cy="285.8" r="1.75"/><circle cx="87.7" cy="287.3" r="1.75"/><circle cx="86.7" cy="275.6" r="1.75"/><circle cx="88.6" cy="271.7" r="1.75"/><circle cx="88.6" cy="277.6" r="1.75"/><circle cx="83.3" cy="262" r="1.75"/><circle cx="103.3" cy="240.4" r="1.75"/><circle cx="99.5" cy="245.3" r="1.75"/><circle cx="105.3" cy="246.8" r="1.75"/><circle cx="108.2" cy="247.2" r="1.75"/><circle cx="101.4" cy="249.7" r="1.75"/><circle cx="104.3" cy="250.6" r="1.75"/><circle cx="100.9" cy="253.1" r="1.75"/><circle cx="94.6" cy="252.6" r="1.75"/><circle cx="97.5" cy="254.1" r="1.75"/><circle cx="91.7" cy="254.5" r="1.75"/><circle cx="88.8" cy="253.6" r="1.75"/><circle cx="85.8" cy="255" r="1.75"/><circle cx="84.4" cy="257.5" r="1.75"/><circle cx="89.7" cy="257.5" r="1.75"/><circle cx="92.6" cy="258.4" r="1.75"/><circle cx="95.6" cy="256.5" r="1.75"/><circle cx="98.5" cy="257.5" r="1.75"/><circle cx="82.4" cy="261.3" r="1.75"/><circle cx="86.8" cy="260.9" r="1.75"/><circle cx="90.7" cy="261.8" r="1.75"/><circle cx="94.6" cy="262.3" r="1.75"/><circle cx="93.6" cy="265.7" r="1.75"/><circle cx="91.7" cy="267.7" r="1.75"/><circle cx="97.5" cy="269.1" r="1.75"/><circle cx="99.5" cy="268.2" r="1.75"/><circle cx="94.6" cy="270.1" r="1.75"/><circle cx="88.8" cy="271.1" r="1.75"/><circle cx="81.9" cy="270.1" r="1.75"/><circle cx="80.9" cy="273" r="1.75"/><circle cx="110.2" cy="254.5" r="1.75"/><circle cx="111.1" cy="256" r="1.75"/><circle cx="114" cy="250.6" r="1.75"/><circle cx="115" cy="247.7" r="1.75"/><circle cx="116.5" cy="252.6" r="1.75"/><circle cx="117.5" cy="260.4" r="1.75"/><circle cx="108.2" cy="265.2" r="1.75"/><circle cx="115" cy="239" r="1.75"/><circle cx="117.9" cy="241.4" r="1.75"/><circle cx="121.8" cy="240" r="1.75"/><circle cx="125.7" cy="241.9" r="1.75"/><circle cx="122.8" cy="244.8" r="1.75"/><circle cx="128.6" cy="240" r="1.75"/><circle cx="155.9" cy="238.8" r="1.75"/><circle cx="146.2" cy="232" r="1.75"/><circle cx="146.7" cy="235" r="1.75"/><circle cx="147.2" cy="236.9" r="1.75"/><circle cx="138.4" cy="231.1" r="1.75"/><circle cx="140.9" cy="233" r="1.75"/><circle cx="135.5" cy="234.5" r="1.75"/><circle cx="134.1" cy="238.3" r="1.75"/><circle cx="135.5" cy="236.4" r="1.75"/><circle cx="135" cy="242.7" r="1.75"/><circle cx="119.5" cy="235.4" r="1.75"/><circle cx="122.9" cy="236.4" r="1.75"/><circle cx="125.8" cy="237.4" r="1.75"/><circle cx="120.9" cy="239.3" r="1.75"/><circle cx="123.8" cy="240.8" r="1.75"/><circle cx="127.7" cy="239.8" r="1.75"/><circle cx="130.6" cy="240.8" r="1.75"/><circle cx="117.7" cy="260.3" r="1.75"/><circle cx="108.4" cy="265.1" r="1.75"/><circle cx="99.2" cy="268" r="1.75"/><circle cx="96.8" cy="270" r="1.75"/><circle cx="93.8" cy="271" r="1.75"/><circle cx="89.9" cy="271.5" r="1.75"/><circle cx="88.5" cy="277.3" r="1.75"/><circle cx="88.5" cy="286.5" r="1.75"/><circle cx="110.4" cy="254.9" r="1.75"/><circle cx="111.3" cy="256.4" r="1.75"/><circle cx="117.2" cy="253.9" r="1.75"/><circle cx="91.9" cy="267.6" r="1.75"/><circle cx="97" cy="259.5" r="1.75"/><circle cx="99.3" cy="261.2" r="1.75"/><circle cx="96" cy="262.8" r="1.75"/><circle cx="101" cy="258.2" r="1.75"/><circle cx="94.5" cy="259.8" r="1.75"/><circle cx="98.2" cy="264.5" r="1.75"/><circle cx="104" cy="256.7" r="1.75"/><circle cx="108.7" cy="250.4" r="1.75"/><circle cx="73.4" cy="272" r="1.75"/><circle cx="142.7" cy="235.4" r="1.75"/><circle cx="96.7" cy="250.8" r="1.75"/><circle cx="102.5" cy="246.9" r="1.75"/><circle cx="105.5" cy="268.4" r="1.75"/><circle cx="77.3" cy="285.8" r="1.75"/></g>
<line x1="24.5" y1="324.3" x2="172.2" y2="194.5" stroke="#6a6a6a" stroke-width="1.05"/>
<line x1="51.6" y1="288" x2="158.4" y2="221.2" stroke="#3F88D7" stroke-width="1.25" stroke-dasharray="4.3 3.9"/>
<rect x="24.5" y="194.5" width="147.7" height="129.8" fill="none" stroke="#000" stroke-width="1.3"/>
<path d="M24.5 324.3v2.6M24.5 324.3h-2.6M45.6 324.3v2.6M24.5 305.8h-2.6M66.7 324.3v2.6M24.5 287.2h-2.6M87.8 324.3v2.6M24.5 268.7h-2.6M108.9 324.3v2.6M24.5 250.1h-2.6M130 324.3v2.6M24.5 231.6h-2.6M151.1 324.3v2.6M24.5 213h-2.6M172.2 324.3v2.6M24.5 194.5h-2.6" stroke="#000" stroke-width="1.3" fill="none"/>
<text class="tk" transform="translate(24.5 337.2) scale(1.15 1)" text-anchor="middle">1</text>
<text class="tk" transform="translate(17.5 327.1) scale(1.15 1)" text-anchor="end">1</text>
<text class="tk" transform="translate(45.6 337.2) scale(1.15 1)" text-anchor="middle">2</text>
<text class="tk" transform="translate(17.5 308.6) scale(1.15 1)" text-anchor="end">2</text>
<text class="tk" transform="translate(66.7 337.2) scale(1.15 1)" text-anchor="middle">3</text>
<text class="tk" transform="translate(17.5 290) scale(1.15 1)" text-anchor="end">3</text>
<text class="tk" transform="translate(87.8 337.2) scale(1.15 1)" text-anchor="middle">4</text>
<text class="tk" transform="translate(17.5 271.5) scale(1.15 1)" text-anchor="end">4</text>
<text class="tk" transform="translate(108.9 337.2) scale(1.15 1)" text-anchor="middle">5</text>
<text class="tk" transform="translate(17.5 252.9) scale(1.15 1)" text-anchor="end">5</text>
<text class="tk" transform="translate(130 337.2) scale(1.15 1)" text-anchor="middle">6</text>
<text class="tk" transform="translate(17.5 234.4) scale(1.15 1)" text-anchor="end">6</text>
<text class="tk" transform="translate(151.1 337.2) scale(1.15 1)" text-anchor="middle">7</text>
<text class="tk" transform="translate(17.5 215.8) scale(1.15 1)" text-anchor="end">7</text>
<text class="tk" transform="translate(172.2 337.2) scale(1.15 1)" text-anchor="middle">8</text>
<text class="tk" transform="translate(17.5 197.3) scale(1.15 1)" text-anchor="end">8</text>
<text class="ax" x="98.3" y="348.9" text-anchor="middle">Measured LAI</text>
<text class="ax" transform="translate(9.1 259.4) rotate(-90)" text-anchor="middle">Estimated LAI</text>
<text class="an" x="28.1" y="205.9">RF:ASR<tspan dx="1.2"> + VIs</tspan></text>
<text class="an" x="28.1" y="216.1">R<tspan class="sb" dy="0.7">p</tspan><tspan dy="-3.5" class="sp">2</tspan><tspan dy="2.8"> = 0.78</tspan></text>
<text class="an" x="28.1" y="226.1">RMSE<tspan class="sb" dy="0.7">p</tspan><tspan dy="-0.7">=0.51</tspan></text>
<text class="pl" x="84.1" y="364.2" text-anchor="middle">(d)</text>
<g fill="#A9D18E"><circle cx="232.3" cy="287.8" r="1.75"/><circle cx="237.2" cy="293.1" r="1.75"/><circle cx="238.6" cy="289.2" r="1.75"/><circle cx="240.6" cy="288.7" r="1.75"/><circle cx="244" cy="284.4" r="1.75"/><circle cx="245.5" cy="286" r="1.75"/><circle cx="251.8" cy="279" r="1.75"/><circle cx="254.2" cy="281" r="1.75"/><circle cx="256.2" cy="271.2" r="1.75"/><circle cx="259.6" cy="264.9" r="1.75"/><circle cx="263.5" cy="263.5" r="1.75"/><circle cx="267.8" cy="265.9" r="1.75"/><circle cx="270.3" cy="265.9" r="1.75"/><circle cx="271.7" cy="273.7" r="1.75"/><circle cx="273.7" cy="272.7" r="1.75"/><circle cx="269.3" cy="281" r="1.75"/><circle cx="255.2" cy="285.3" r="1.75"/><circle cx="293.7" cy="237.9" r="1.75"/><circle cx="298" cy="239.9" r="1.75"/><circle cx="301.9" cy="240.9" r="1.75"/><circle cx="305.8" cy="238.4" r="1.75"/><circle cx="285.9" cy="245.7" r="1.75"/><circle cx="287.8" cy="247.7" r="1.75"/><circle cx="286.4" cy="249.6" r="1.75"/><circle cx="271.8" cy="252.5" r="1.75"/><circle cx="273.7" cy="254.5" r="1.75"/><circle cx="267.9" cy="257.4" r="1.75"/><circle cx="271.3" cy="256" r="1.75"/><circle cx="275.7" cy="257.4" r="1.75"/><circle cx="265" cy="262.3" r="1.75"/><circle cx="290.3" cy="252.5" r="1.75"/><circle cx="293.2" cy="255" r="1.75"/><circle cx="298" cy="251.6" r="1.75"/><circle cx="305.8" cy="255" r="1.75"/><circle cx="308.3" cy="249.6" r="1.75"/><circle cx="310.7" cy="249.6" r="1.75"/><circle cx="312.6" cy="245.7" r="1.75"/><circle cx="296.1" cy="254.5" r="1.75"/><circle cx="298" cy="257.4" r="1.75"/><circle cx="282" cy="262.3" r="1.75"/><circle cx="285.4" cy="268.1" r="1.75"/><circle cx="269.8" cy="267.1" r="1.75"/><circle cx="348.3" cy="220.3" r="1.75"/><circle cx="333.7" cy="220.3" r="1.75"/><circle cx="320.1" cy="227.1" r="1.75"/><circle cx="328.8" cy="230" r="1.75"/><circle cx="333.2" cy="236.3" r="1.75"/><circle cx="337.6" cy="234.9" r="1.75"/><circle cx="306.5" cy="233.4" r="1.75"/><circle cx="317.6" cy="233.4" r="1.75"/><circle cx="319.6" cy="235.4" r="1.75"/><circle cx="321.5" cy="238.3" r="1.75"/><circle cx="317.6" cy="238.3" r="1.75"/><circle cx="313.8" cy="244.1" r="1.75"/><circle cx="310.8" cy="239.3" r="1.75"/><circle cx="324.5" cy="232.5" r="1.75"/><circle cx="329.3" cy="232.5" r="1.75"/><circle cx="285.6" cy="268.1" r="1.75"/><circle cx="306.5" cy="255.4" r="1.75"/><circle cx="299.2" cy="256.9" r="1.75"/><circle cx="292.4" cy="258.8" r="1.75"/><circle cx="281.7" cy="265.6" r="1.75"/><circle cx="273.5" cy="254.9" r="1.75"/><circle cx="289" cy="251" r="1.75"/><circle cx="292" cy="253" r="1.75"/><circle cx="296" cy="249.5" r="1.75"/><circle cx="300" cy="247.5" r="1.75"/><circle cx="303" cy="251.5" r="1.75"/><circle cx="283" cy="252.5" r="1.75"/><circle cx="288.5" cy="254.5" r="1.75"/><circle cx="314.8" cy="235.1" r="1.75"/><circle cx="286.7" cy="265" r="1.75"/><circle cx="280.2" cy="249.8" r="1.75"/><circle cx="272.7" cy="259.2" r="1.75"/><circle cx="294.5" cy="242.5" r="1.75"/><circle cx="318.1" cy="229.2" r="1.75"/><circle cx="263.3" cy="278.8" r="1.75"/><circle cx="293.1" cy="262.4" r="1.75"/><circle cx="304.8" cy="247.4" r="1.75"/><circle cx="288.4" cy="268.9" r="1.75"/><circle cx="325.7" cy="229.7" r="1.75"/><circle cx="302.9" cy="258.6" r="1.75"/><circle cx="256.6" cy="278.3" r="1.75"/><circle cx="271" cy="270.4" r="1.75"/><circle cx="260.2" cy="274.2" r="1.75"/><circle cx="272.3" cy="281.7" r="1.75"/><circle cx="277.4" cy="253.5" r="1.75"/><circle cx="314" cy="238.7" r="1.75"/><circle cx="268.9" cy="254.1" r="1.75"/></g>
<g fill="#ED7D31"><circle cx="252.3" cy="267.8" r="1.75"/><circle cx="258.1" cy="266.4" r="1.75"/><circle cx="243.5" cy="290.7" r="1.75"/><circle cx="248.4" cy="289.2" r="1.75"/><circle cx="252.3" cy="290.2" r="1.75"/><circle cx="247.9" cy="282.4" r="1.75"/><circle cx="249.8" cy="284.9" r="1.75"/><circle cx="252.3" cy="282.9" r="1.75"/><circle cx="252.8" cy="275.1" r="1.75"/><circle cx="256.2" cy="273.2" r="1.75"/><circle cx="256.2" cy="281" r="1.75"/><circle cx="259.6" cy="289.7" r="1.75"/><circle cx="259.6" cy="285.8" r="1.75"/><circle cx="260" cy="278.1" r="1.75"/><circle cx="260.5" cy="269.8" r="1.75"/><circle cx="262.5" cy="271.7" r="1.75"/><circle cx="263" cy="282.9" r="1.75"/><circle cx="264.4" cy="284.4" r="1.75"/><circle cx="263" cy="269.3" r="1.75"/><circle cx="265.9" cy="277.6" r="1.75"/><circle cx="266.9" cy="280.5" r="1.75"/><circle cx="265.9" cy="266.9" r="1.75"/><circle cx="267.8" cy="276.6" r="1.75"/><circle cx="269.8" cy="285.3" r="1.75"/><circle cx="270.7" cy="262" r="1.75"/><circle cx="273.7" cy="278.1" r="1.75"/><circle cx="274.6" cy="269.8" r="1.75"/><circle cx="275.1" cy="279.5" r="1.75"/><circle cx="275.7" cy="244.3" r="1.75"/><circle cx="278.6" cy="246.7" r="1.75"/><circle cx="282" cy="243.3" r="1.75"/><circle cx="285.9" cy="241.4" r="1.75"/><circle cx="289.8" cy="240.4" r="1.75"/><circle cx="275.2" cy="249.6" r="1.75"/><circle cx="283.5" cy="248.2" r="1.75"/><circle cx="283" cy="250.1" r="1.75"/><circle cx="290.8" cy="244.8" r="1.75"/><circle cx="292.2" cy="248.6" r="1.75"/><circle cx="293.2" cy="249.6" r="1.75"/><circle cx="295.1" cy="245.2" r="1.75"/><circle cx="297.6" cy="245.7" r="1.75"/><circle cx="303.9" cy="239.9" r="1.75"/><circle cx="301.9" cy="243.3" r="1.75"/><circle cx="304.9" cy="243.8" r="1.75"/><circle cx="306.8" cy="241.8" r="1.75"/><circle cx="308.7" cy="244.8" r="1.75"/><circle cx="310.7" cy="246.2" r="1.75"/><circle cx="312.6" cy="243.3" r="1.75"/><circle cx="309.7" cy="236.5" r="1.75"/><circle cx="303.4" cy="250.1" r="1.75"/><circle cx="300.5" cy="253.5" r="1.75"/><circle cx="301.9" cy="255.9" r="1.75"/><circle cx="280.5" cy="254" r="1.75"/><circle cx="284.9" cy="254" r="1.75"/><circle cx="287.3" cy="255" r="1.75"/><circle cx="279.6" cy="258.4" r="1.75"/><circle cx="281" cy="259.8" r="1.75"/><circle cx="285.9" cy="260.3" r="1.75"/><circle cx="286.4" cy="261.8" r="1.75"/><circle cx="289.3" cy="257.4" r="1.75"/><circle cx="295.1" cy="258.9" r="1.75"/><circle cx="270.8" cy="261.8" r="1.75"/><circle cx="273.7" cy="263.3" r="1.75"/><circle cx="274.7" cy="265.2" r="1.75"/><circle cx="277.6" cy="268.1" r="1.75"/><circle cx="266.4" cy="267.1" r="1.75"/><circle cx="273.2" cy="267.6" r="1.75"/><circle cx="278.6" cy="265.2" r="1.75"/><circle cx="283.5" cy="269.6" r="1.75"/><circle cx="290.3" cy="264.7" r="1.75"/><circle cx="293.2" cy="270.5" r="1.75"/><circle cx="265" cy="270" r="1.75"/><circle cx="342" cy="238.3" r="1.75"/><circle cx="333.2" cy="232" r="1.75"/><circle cx="326.9" cy="233.4" r="1.75"/><circle cx="328.3" cy="237.3" r="1.75"/><circle cx="324.9" cy="238.3" r="1.75"/><circle cx="323.5" cy="235.9" r="1.75"/><circle cx="321.5" cy="230" r="1.75"/><circle cx="314.7" cy="230.5" r="1.75"/><circle cx="315.7" cy="232" r="1.75"/><circle cx="312.8" cy="232.5" r="1.75"/><circle cx="308.9" cy="232.9" r="1.75"/><circle cx="309.9" cy="236.3" r="1.75"/><circle cx="306.9" cy="242.2" r="1.75"/><circle cx="309.9" cy="246.1" r="1.75"/><circle cx="313.8" cy="242.2" r="1.75"/><circle cx="316.7" cy="244.1" r="1.75"/><circle cx="321.5" cy="242.2" r="1.75"/><circle cx="321.1" cy="246.6" r="1.75"/><circle cx="280.8" cy="253.9" r="1.75"/><circle cx="285.1" cy="254.9" r="1.75"/><circle cx="287.6" cy="255.4" r="1.75"/><circle cx="279.3" cy="258.8" r="1.75"/><circle cx="286.6" cy="261.7" r="1.75"/><circle cx="295.3" cy="258.8" r="1.75"/><circle cx="290.5" cy="264.6" r="1.75"/><circle cx="283.2" cy="269.5" r="1.75"/><circle cx="285.6" cy="272.4" r="1.75"/><circle cx="293.9" cy="271.5" r="1.75"/><circle cx="283.7" cy="276.8" r="1.75"/><circle cx="282.7" cy="278.3" r="1.75"/><circle cx="276.9" cy="279.7" r="1.75"/><circle cx="274.4" cy="278.3" r="1.75"/><circle cx="277.8" cy="271.5" r="1.75"/><circle cx="274.9" cy="271.9" r="1.75"/><circle cx="277.8" cy="267.6" r="1.75"/><circle cx="273.9" cy="264.2" r="1.75"/><circle cx="301.2" cy="254.4" r="1.75"/><circle cx="302.2" cy="255.9" r="1.75"/><circle cx="268" cy="270.9" r="1.75"/><circle cx="275.4" cy="274.9" r="1.75"/><circle cx="287.8" cy="243.3" r="1.75"/><circle cx="315.6" cy="246.9" r="1.75"/><circle cx="259.2" cy="282.9" r="1.75"/><circle cx="281.4" cy="273.8" r="1.75"/><circle cx="276.7" cy="262.2" r="1.75"/><circle cx="252.2" cy="286.8" r="1.75"/></g>
<line x1="211" y1="324.3" x2="358.7" y2="194.5" stroke="#6a6a6a" stroke-width="1.05"/>
<line x1="241.1" y1="289.6" x2="344.4" y2="219.4" stroke="#3F88D7" stroke-width="1.25" stroke-dasharray="4.3 3.9"/>
<rect x="211" y="194.5" width="147.7" height="129.8" fill="none" stroke="#000" stroke-width="1.3"/>
<path d="M211 324.3v2.6M211 324.3h-2.6M232.1 324.3v2.6M211 305.8h-2.6M253.2 324.3v2.6M211 287.2h-2.6M274.3 324.3v2.6M211 268.7h-2.6M295.4 324.3v2.6M211 250.1h-2.6M316.5 324.3v2.6M211 231.6h-2.6M337.6 324.3v2.6M211 213h-2.6M358.7 324.3v2.6M211 194.5h-2.6" stroke="#000" stroke-width="1.3" fill="none"/>
<text class="tk" transform="translate(211 337.2) scale(1.15 1)" text-anchor="middle">1</text>
<text class="tk" transform="translate(204 327.1) scale(1.15 1)" text-anchor="end">1</text>
<text class="tk" transform="translate(232.1 337.2) scale(1.15 1)" text-anchor="middle">2</text>
<text class="tk" transform="translate(204 308.6) scale(1.15 1)" text-anchor="end">2</text>
<text class="tk" transform="translate(253.2 337.2) scale(1.15 1)" text-anchor="middle">3</text>
<text class="tk" transform="translate(204 290) scale(1.15 1)" text-anchor="end">3</text>
<text class="tk" transform="translate(274.3 337.2) scale(1.15 1)" text-anchor="middle">4</text>
<text class="tk" transform="translate(204 271.5) scale(1.15 1)" text-anchor="end">4</text>
<text class="tk" transform="translate(295.4 337.2) scale(1.15 1)" text-anchor="middle">5</text>
<text class="tk" transform="translate(204 252.9) scale(1.15 1)" text-anchor="end">5</text>
<text class="tk" transform="translate(316.5 337.2) scale(1.15 1)" text-anchor="middle">6</text>
<text class="tk" transform="translate(204 234.4) scale(1.15 1)" text-anchor="end">6</text>
<text class="tk" transform="translate(337.6 337.2) scale(1.15 1)" text-anchor="middle">7</text>
<text class="tk" transform="translate(204 215.8) scale(1.15 1)" text-anchor="end">7</text>
<text class="tk" transform="translate(358.7 337.2) scale(1.15 1)" text-anchor="middle">8</text>
<text class="tk" transform="translate(204 197.3) scale(1.15 1)" text-anchor="end">8</text>
<text class="ax" x="284.9" y="348.9" text-anchor="middle">Measured LAI</text>
<text class="ax" transform="translate(195.6 259.4) rotate(-90)" text-anchor="middle">Estimated LAI</text>
<text class="an" x="214.6" y="205.9">RF:ASR<tspan dx="1.2"> + Textures</tspan></text>
<text class="an" x="214.6" y="216.1">R<tspan class="sb" dy="0.7">p</tspan><tspan dy="-3.5" class="sp">2</tspan><tspan dy="2.8"> = 0.76</tspan></text>
<text class="an" x="214.6" y="226.1">RMSE<tspan class="sb" dy="0.7">p</tspan><tspan dy="-0.7">=0.51</tspan></text>
<text class="pl" x="270.5" y="364.2" text-anchor="middle">(e)</text>
<g fill="#A9D18E"><circle cx="415.8" cy="290.2" r="1.75"/><circle cx="422.6" cy="290.2" r="1.75"/><circle cx="430.4" cy="287.3" r="1.75"/><circle cx="430.9" cy="289.7" r="1.75"/><circle cx="434.3" cy="281.5" r="1.75"/><circle cx="439.2" cy="271.7" r="1.75"/><circle cx="440.2" cy="278.5" r="1.75"/><circle cx="441.6" cy="269.3" r="1.75"/><circle cx="444" cy="265.9" r="1.75"/><circle cx="447" cy="262.5" r="1.75"/><circle cx="445" cy="276.6" r="1.75"/><circle cx="448.9" cy="279" r="1.75"/><circle cx="453.8" cy="282.9" r="1.75"/><circle cx="456.7" cy="263" r="1.75"/><circle cx="458.6" cy="264" r="1.75"/><circle cx="452.8" cy="266.9" r="1.75"/><circle cx="455.3" cy="248.2" r="1.75"/><circle cx="451.9" cy="256.4" r="1.75"/><circle cx="449" cy="261.3" r="1.75"/><circle cx="457.7" cy="255.5" r="1.75"/><circle cx="459.7" cy="263.3" r="1.75"/><circle cx="466" cy="257.4" r="1.75"/><circle cx="467.5" cy="253.5" r="1.75"/><circle cx="470.4" cy="246.7" r="1.75"/><circle cx="473.8" cy="246.2" r="1.75"/><circle cx="472.3" cy="252" r="1.75"/><circle cx="473.3" cy="256.4" r="1.75"/><circle cx="474.3" cy="263.2" r="1.75"/><circle cx="477.2" cy="256.4" r="1.75"/><circle cx="478.2" cy="267.6" r="1.75"/><circle cx="485" cy="258.9" r="1.75"/><circle cx="477.2" cy="240.4" r="1.75"/><circle cx="481.1" cy="238" r="1.75"/><circle cx="483" cy="236.5" r="1.75"/><circle cx="485" cy="240.9" r="1.75"/><circle cx="486.9" cy="248.6" r="1.75"/><circle cx="490.8" cy="250.6" r="1.75"/><circle cx="495.7" cy="247.7" r="1.75"/><circle cx="490.8" cy="237" r="1.75"/><circle cx="495.7" cy="238" r="1.75"/><circle cx="480.1" cy="253" r="1.75"/><circle cx="533.3" cy="221.2" r="1.75"/><circle cx="527" cy="228.5" r="1.75"/><circle cx="518.2" cy="220.8" r="1.75"/><circle cx="516.8" cy="223.7" r="1.75"/><circle cx="516.3" cy="227.1" r="1.75"/><circle cx="513.3" cy="229" r="1.75"/><circle cx="518.7" cy="231.5" r="1.75"/><circle cx="518.2" cy="235.8" r="1.75"/><circle cx="511.4" cy="224.2" r="1.75"/><circle cx="508.5" cy="225.6" r="1.75"/><circle cx="505.6" cy="226.6" r="1.75"/><circle cx="501.2" cy="227.6" r="1.75"/><circle cx="501.7" cy="230.5" r="1.75"/><circle cx="509" cy="230" r="1.75"/><circle cx="508" cy="232.9" r="1.75"/><circle cx="506.1" cy="235.8" r="1.75"/><circle cx="500.2" cy="233.4" r="1.75"/><circle cx="497.3" cy="236.3" r="1.75"/><circle cx="493.4" cy="235.3" r="1.75"/><circle cx="491" cy="237.8" r="1.75"/><circle cx="495.4" cy="240.2" r="1.75"/><circle cx="499.7" cy="243.1" r="1.75"/><circle cx="495.8" cy="246.5" r="1.75"/><circle cx="453.9" cy="283.2" r="1.75"/><circle cx="468" cy="276.4" r="1.75"/><circle cx="473.8" cy="263.8" r="1.75"/><circle cx="478.2" cy="258.4" r="1.75"/><circle cx="484.5" cy="258.9" r="1.75"/><circle cx="485" cy="255.5" r="1.75"/><circle cx="456.8" cy="257" r="1.75"/><circle cx="474.4" cy="259.4" r="1.75"/><circle cx="484.4" cy="252.3" r="1.75"/><circle cx="468.9" cy="259.8" r="1.75"/><circle cx="439.7" cy="287.3" r="1.75"/><circle cx="448.8" cy="265.9" r="1.75"/><circle cx="486.4" cy="236.2" r="1.75"/><circle cx="475.2" cy="268.4" r="1.75"/><circle cx="443.7" cy="280.3" r="1.75"/><circle cx="465.5" cy="266.9" r="1.75"/><circle cx="459.9" cy="284.8" r="1.75"/><circle cx="480.7" cy="264" r="1.75"/><circle cx="466.6" cy="246.7" r="1.75"/><circle cx="481.1" cy="260.7" r="1.75"/><circle cx="474.2" cy="242.8" r="1.75"/><circle cx="466.6" cy="274" r="1.75"/><circle cx="459.3" cy="250.2" r="1.75"/><circle cx="495.3" cy="243.8" r="1.75"/><circle cx="449.6" cy="258.3" r="1.75"/></g>
<g fill="#ED7D31"><circle cx="420.7" cy="284.4" r="1.75"/><circle cx="424.1" cy="279.5" r="1.75"/><circle cx="427.5" cy="281.9" r="1.75"/><circle cx="428" cy="283.9" r="1.75"/><circle cx="432.4" cy="282.4" r="1.75"/><circle cx="434.8" cy="284.9" r="1.75"/><circle cx="436.3" cy="286.3" r="1.75"/><circle cx="439.2" cy="283.9" r="1.75"/><circle cx="440.2" cy="282.4" r="1.75"/><circle cx="436.3" cy="269.3" r="1.75"/><circle cx="436.3" cy="274.6" r="1.75"/><circle cx="441.1" cy="271.2" r="1.75"/><circle cx="444" cy="268.8" r="1.75"/><circle cx="442.1" cy="274.6" r="1.75"/><circle cx="445" cy="271.7" r="1.75"/><circle cx="447" cy="269.8" r="1.75"/><circle cx="448.9" cy="269.3" r="1.75"/><circle cx="450.9" cy="271.2" r="1.75"/><circle cx="451.8" cy="273.7" r="1.75"/><circle cx="448.9" cy="274.6" r="1.75"/><circle cx="452.8" cy="276.6" r="1.75"/><circle cx="455.7" cy="274.6" r="1.75"/><circle cx="457.7" cy="271.7" r="1.75"/><circle cx="458.6" cy="276.6" r="1.75"/><circle cx="450.9" cy="278.5" r="1.75"/><circle cx="443.1" cy="284.4" r="1.75"/><circle cx="443.6" cy="287.3" r="1.75"/><circle cx="445" cy="285.3" r="1.75"/><circle cx="447.9" cy="282.4" r="1.75"/><circle cx="449.9" cy="285.3" r="1.75"/><circle cx="451.8" cy="287.3" r="1.75"/><circle cx="457.7" cy="280" r="1.75"/><circle cx="457.2" cy="283.9" r="1.75"/><circle cx="457.7" cy="287.8" r="1.75"/><circle cx="453.8" cy="263" r="1.75"/><circle cx="454.7" cy="265" r="1.75"/><circle cx="471.3" cy="239.4" r="1.75"/><circle cx="460.2" cy="245.7" r="1.75"/><circle cx="470.4" cy="244.3" r="1.75"/><circle cx="471.3" cy="246.2" r="1.75"/><circle cx="455.8" cy="253.5" r="1.75"/><circle cx="461.6" cy="253" r="1.75"/><circle cx="463.6" cy="250.1" r="1.75"/><circle cx="465.5" cy="252" r="1.75"/><circle cx="468.4" cy="251.1" r="1.75"/><circle cx="471.8" cy="249.6" r="1.75"/><circle cx="475.7" cy="248.2" r="1.75"/><circle cx="479.1" cy="250.6" r="1.75"/><circle cx="475.2" cy="253" r="1.75"/><circle cx="468.9" cy="255.5" r="1.75"/><circle cx="462.6" cy="256.4" r="1.75"/><circle cx="463.6" cy="258.9" r="1.75"/><circle cx="458.7" cy="259.3" r="1.75"/><circle cx="453.8" cy="260.8" r="1.75"/><circle cx="454.8" cy="264.7" r="1.75"/><circle cx="458.7" cy="266.2" r="1.75"/><circle cx="471.3" cy="261.3" r="1.75"/><circle cx="469.9" cy="264.2" r="1.75"/><circle cx="471.3" cy="266.2" r="1.75"/><circle cx="481.6" cy="255" r="1.75"/><circle cx="484" cy="262.8" r="1.75"/><circle cx="479.1" cy="267.1" r="1.75"/><circle cx="485.9" cy="244.3" r="1.75"/><circle cx="488.9" cy="239.4" r="1.75"/><circle cx="490.8" cy="241.4" r="1.75"/><circle cx="492.7" cy="242.8" r="1.75"/><circle cx="491.8" cy="245.7" r="1.75"/><circle cx="487.9" cy="245.7" r="1.75"/><circle cx="450" cy="269.1" r="1.75"/><circle cx="460.6" cy="269.1" r="1.75"/><circle cx="463.6" cy="270.1" r="1.75"/><circle cx="467.5" cy="269.6" r="1.75"/><circle cx="505.1" cy="231" r="1.75"/><circle cx="497.3" cy="232.9" r="1.75"/><circle cx="508.5" cy="239.2" r="1.75"/><circle cx="522.1" cy="238.3" r="1.75"/><circle cx="491" cy="239.7" r="1.75"/><circle cx="492.9" cy="241.7" r="1.75"/><circle cx="491.9" cy="245.1" r="1.75"/><circle cx="453.9" cy="260.8" r="1.75"/><circle cx="458.8" cy="259.4" r="1.75"/><circle cx="453.9" cy="264.7" r="1.75"/><circle cx="461.7" cy="261.8" r="1.75"/><circle cx="462.6" cy="264.7" r="1.75"/><circle cx="469.5" cy="263.8" r="1.75"/><circle cx="470.9" cy="266.2" r="1.75"/><circle cx="484" cy="262.8" r="1.75"/><circle cx="478.7" cy="267.2" r="1.75"/><circle cx="463.6" cy="269.1" r="1.75"/><circle cx="466.5" cy="270.6" r="1.75"/><circle cx="464.6" cy="272" r="1.75"/><circle cx="469.5" cy="273" r="1.75"/><circle cx="470" cy="274.9" r="1.75"/><circle cx="458.8" cy="272" r="1.75"/><circle cx="455.8" cy="274.5" r="1.75"/><circle cx="458.8" cy="275.9" r="1.75"/><circle cx="454.9" cy="276.4" r="1.75"/><circle cx="451" cy="277.4" r="1.75"/><circle cx="451.9" cy="278.8" r="1.75"/><circle cx="457.8" cy="280.3" r="1.75"/><circle cx="457.3" cy="283.7" r="1.75"/><circle cx="450.5" cy="283.2" r="1.75"/><circle cx="451.9" cy="288.1" r="1.75"/><circle cx="458.3" cy="288.1" r="1.75"/><circle cx="481.6" cy="255.5" r="1.75"/><circle cx="461.7" cy="256" r="1.75"/><circle cx="462" cy="274.6" r="1.75"/><circle cx="447.8" cy="288.8" r="1.75"/><circle cx="454.3" cy="271.3" r="1.75"/><circle cx="482.9" cy="266.2" r="1.75"/><circle cx="460.7" cy="280.1" r="1.75"/><circle cx="470.7" cy="269.8" r="1.75"/><circle cx="465.4" cy="263.4" r="1.75"/></g>
<line x1="394.5" y1="324.3" x2="544.1" y2="194.5" stroke="#6a6a6a" stroke-width="1.05"/>
<line x1="419" y1="293.2" x2="524" y2="225.1" stroke="#3F88D7" stroke-width="1.25" stroke-dasharray="4.3 3.9"/>
<rect x="394.5" y="194.5" width="149.6" height="129.8" fill="none" stroke="#000" stroke-width="1.3"/>
<path d="M394.5 324.3v2.6M394.5 324.3h-2.6M415.9 324.3v2.6M394.5 305.8h-2.6M437.2 324.3v2.6M394.5 287.2h-2.6M458.6 324.3v2.6M394.5 268.7h-2.6M480 324.3v2.6M394.5 250.1h-2.6M501.4 324.3v2.6M394.5 231.6h-2.6M522.7 324.3v2.6M394.5 213h-2.6M544.1 324.3v2.6M394.5 194.5h-2.6" stroke="#000" stroke-width="1.3" fill="none"/>
<text class="tk" transform="translate(394.5 337.2) scale(1.15 1)" text-anchor="middle">1</text>
<text class="tk" transform="translate(387.5 327.1) scale(1.15 1)" text-anchor="end">1</text>
<text class="tk" transform="translate(415.9 337.2) scale(1.15 1)" text-anchor="middle">2</text>
<text class="tk" transform="translate(387.5 308.6) scale(1.15 1)" text-anchor="end">2</text>
<text class="tk" transform="translate(437.2 337.2) scale(1.15 1)" text-anchor="middle">3</text>
<text class="tk" transform="translate(387.5 290) scale(1.15 1)" text-anchor="end">3</text>
<text class="tk" transform="translate(458.6 337.2) scale(1.15 1)" text-anchor="middle">4</text>
<text class="tk" transform="translate(387.5 271.5) scale(1.15 1)" text-anchor="end">4</text>
<text class="tk" transform="translate(480 337.2) scale(1.15 1)" text-anchor="middle">5</text>
<text class="tk" transform="translate(387.5 252.9) scale(1.15 1)" text-anchor="end">5</text>
<text class="tk" transform="translate(501.4 337.2) scale(1.15 1)" text-anchor="middle">6</text>
<text class="tk" transform="translate(387.5 234.4) scale(1.15 1)" text-anchor="end">6</text>
<text class="tk" transform="translate(522.7 337.2) scale(1.15 1)" text-anchor="middle">7</text>
<text class="tk" transform="translate(387.5 215.8) scale(1.15 1)" text-anchor="end">7</text>
<text class="tk" transform="translate(544.1 337.2) scale(1.15 1)" text-anchor="middle">8</text>
<text class="tk" transform="translate(387.5 197.3) scale(1.15 1)" text-anchor="end">8</text>
<text class="ax" x="469.3" y="348.9" text-anchor="middle">Measured LAI</text>
<text class="ax" transform="translate(379.1 259.4) rotate(-90)" text-anchor="middle">Estimated LAI</text>
<text class="an" x="398.1" y="205.9">RF:VIs + Textures</text>
<text class="an" x="398.1" y="216.1">R<tspan class="sb" dy="0.7">p</tspan><tspan dy="-3.5" class="sp">2</tspan><tspan dy="2.8"> = 0.67</tspan></text>
<text class="an" x="398.1" y="226.1">RMSE<tspan class="sb" dy="0.7">p</tspan><tspan dy="-0.7">=0.49</tspan></text>
<text class="pl" x="456.9" y="364.2" text-anchor="middle">(f)</text>
<circle cx="517.1" cy="303.1" r="1.75" fill="#A9D18E"/><text class="lg" x="521.2" y="305.6">Cal</text>
<circle cx="517" cy="316.1" r="1.75" fill="#ED7D31"/><text class="lg" x="521.2" y="318.4">Val</text>
</svg>
</body></html>
